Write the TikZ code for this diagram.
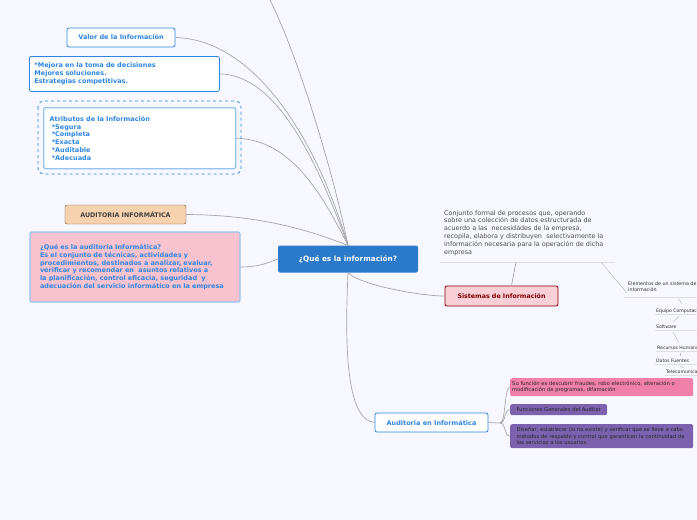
\documentclass[tikz,border=0pt]{standalone}
\usepackage{fontspec}
\setmainfont{DejaVu Sans}
\hyphenpenalty=10000
\exhyphenpenalty=10000
\definecolor{tb}{HTML}{2F86E0}
\definecolor{pk}{HTML}{F8C3CE}
\definecolor{pv}{HTML}{7C62AE}
\definecolor{pm}{HTML}{F080A8}
\begin{document}
\begin{tikzpicture}[x=1pt,y=-1pt,
 conn/.style={draw=gray!70,line width=0.7pt},
 thin/.style={draw=gray!50,line width=0.5pt},
 bluebox/.style={draw=tb,line width=0.8pt,fill=white,rounded corners=2pt,text=tb,font=\fontsize{6.5}{7.8}\selectfont\bfseries,align=left,inner sep=3pt},
 small/.style={font=\fontsize{4.6}{5.6}\selectfont,text=black!80,anchor=west,inner sep=1pt},
 rbox/.style={rounded corners=2pt,font=\fontsize{5.2}{6.3}\selectfont,text=black!85,align=left,anchor=north west,inner sep=2pt}]
\fill[blue!3] (0,0) rectangle (697,520);
\useasboundingbox (0,0) rectangle (697,520);
\clip (0,0) rectangle (697,520);
% nodes
\node[fill=tb!90!black,rounded corners=2pt,text=white,font=\fontsize{7.3}{8}\selectfont\bfseries,minimum width=140,minimum height=27] (c) at (348,259) {¿Qué es la información?};
\node[bluebox,minimum width=108,minimum height=19] (valor) at (121,37.5) {Valor de la Informacion};
\node[bluebox,minimum width=190,minimum height=35,anchor=north west,text width=180] (mej) at (29,56) {*Mejora en la toma de decisiones\\*Mejores soluciones.\\*Estrategias competitivas.};
\draw[tb,dashed,line width=0.8pt,rounded corners=6pt] (38,101) rectangle (241,174);
\node[bluebox,draw=tb!50,line width=1.3pt,minimum width=192,minimum height=61,anchor=north west,text width=180] (atr) at (43,107) {Atributos de la Información\\ \ *Segura\\ \ *Completa\\ \ *Exacta\\ \ *Auditable\\ \ *Adecuada};
\node[draw=brown!60!black,fill=brown!40!orange!35,rounded corners=2pt,font=\fontsize{6.3}{7.5}\selectfont\bfseries,text=black!75,minimum width=121,minimum height=19] (aud) at (125.5,214.5) {AUDITORIA INFORMÁTICA};
\node[bluebox,draw=tb!50,line width=1.3pt,fill=pk,text width=190,minimum width=210,minimum height=70] (que) at (135,267) {¿Qué es la auditoria Informática?\\Es el conjunto de técnicas, actividades y procedimientos, destinados a analizar, evaluar, verificar y recomendar en \ asuntos relativos a la planificación, control eficacia, seguridad \ y adecuación del servicio informático en la empresa};
\node[draw=red!50!black,line width=0.8pt,fill=pk!80!white,rounded corners=2pt,text=red!50!black,font=\fontsize{6.3}{7.5}\selectfont\bfseries,minimum width=113,minimum height=20] (sis) at (501.5,296) {Sistemas de Información};
\node[anchor=north west,text width=160,align=left,font=\fontsize{6.4}{7.8}\selectfont,text=black!70,inner sep=1pt] (conj) at (443,209) {Conjunto formal de procesos que, operando sobre una colección de datos estructurada de acuerdo a las \ necesidades de la empresa, recopila, elabora y distribuyen \ selectivamente la información necesaria para la operación de dicha empresa};
\draw[thin,line width=1pt,draw=gray!25] (440,262) -- (615,262);
\coordinate (cb) at (516,262);
\coordinate (cr) at (601,262);
\node[anchor=north west,align=left,font=\fontsize{4.8}{6}\selectfont,text=black!80,inner sep=1pt] (elem) at (627,281) {Elementos de un sistema de\\información};
\draw[draw=gray!25,line width=0.8pt] (624,297) -- (697,297);
\node[small] (e1) at (655,311) {Equipo Computacional};
\node[small] (e2) at (655,327) {Software};
\node[small] (e3) at (656,348) {Recursos Humanos};
\node[small] (e4) at (655,361) {Datos Fuentes};
\node[small] (e5) at (665,372) {Telecomunicaciones};
\foreach \n in {e1,e2,e3,e4,e5} \draw[draw=gray!25] (\n.south west) -- ++(45,0);
\draw[thin] (678,298) -- (682,304);
\draw[thin] (679,316) -- (673,322);
\draw[thin] (673,332) -- (679,343);
\draw[thin] (680,353) -- (680,356);
\draw[thin] (680,366) -- (684,368);
\node[bluebox,minimum width=113,minimum height=19] (ai) at (431.5,422.5) {Auditoria en Informática};
\node[rbox,fill=pm,text width=179,minimum width=183,minimum height=18] (r1) at (510,378) {Su función es descubrir fraudes, robo electrónico, alteración o modificación de programas, difamación};
\node[rbox,fill=pv,minimum width=97,minimum height=11] (r2) at (510,404) {Funciones Generales del Auditor};
\node[rbox,fill=pv,text width=170,minimum width=183,minimum height=24] (r3) at (510,424) {Diseñar, establecer (si no existe) y verificar que se lleve a cabo métodos de respaldo y control que garanticen la continuidad de los servicios a los usuarios.};
% connectors
\coordinate (top) at (270,0);
\draw[conn] (c.north) .. controls (335,180) and (300,60) .. (top);
\draw[conn] (c.north) .. controls (320,150) and (260,40) .. (valor.east);
\draw[conn] (c.north) .. controls (320,170) and (280,75) .. (mej.east);
\draw[conn] (c.north) .. controls (320,190) and (290,140) .. (atr.east);
\draw[conn] (c.north) .. controls (320,235) and (270,215) .. (aud.east);
\draw[conn] (c.west) .. controls (270,262) and (260,267) .. (que.east);
\draw[conn] (c.south) .. controls (360,285) and (420,296) .. (sis.west);
\draw[conn] (c.south) .. controls (345,340) and (345,420) .. (ai.west);
\draw[conn] (sis.north) ++(10,0) -- (cb);
\draw[thin] (cr) -- (elem.south west);
\draw[conn] (ai.east) -- (500,423);
\draw[conn] (500,423) .. controls (506,423) and (504,387) .. (r1.west);
\draw[conn] (500,423) .. controls (506,423) and (504,409) .. (r2.west);
\draw[conn] (500,423) .. controls (506,423) and (504,436) .. (r3.west);
\end{tikzpicture}
\end{document}
